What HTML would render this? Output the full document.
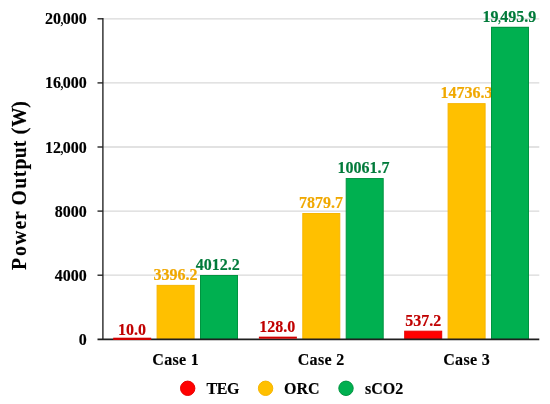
<!DOCTYPE html>
<html><head><meta charset="utf-8"><title>Power Output</title>
<style>
html,body{margin:0;padding:0;background:#fff;}
body{width:550px;height:404px;overflow:hidden;}
svg{display:block;}
text{font-family:"Liberation Serif","Times New Roman",serif;font-weight:bold;font-kerning:none;}
.t{font-size:16px;}
.k{fill:#000;stroke:#000;stroke-width:0.15;}
</style></head><body>
<svg width="550" height="404" viewBox="0 0 550 404">
<rect width="550" height="404" fill="#fff"/>
<line x1="102.9" y1="275.20" x2="539.3" y2="275.20" stroke="#d9d9d9" stroke-width="1.3"/>
<line x1="102.9" y1="211.10" x2="539.3" y2="211.10" stroke="#d9d9d9" stroke-width="1.3"/>
<line x1="102.9" y1="147.00" x2="539.3" y2="147.00" stroke="#d9d9d9" stroke-width="1.3"/>
<line x1="102.9" y1="82.90" x2="539.3" y2="82.90" stroke="#d9d9d9" stroke-width="1.3"/>
<line x1="102.9" y1="18.80" x2="539.3" y2="18.80" stroke="#d9d9d9" stroke-width="1.3"/>
<rect x="157.10" y="285.38" width="37.00" height="53.92" fill="#ffc000" stroke="#f7b500" stroke-width="1"/>
<rect x="200.50" y="275.50" width="37.00" height="63.80" fill="#00b050" stroke="#009440" stroke-width="1"/>
<rect x="302.80" y="213.53" width="37.00" height="125.77" fill="#ffc000" stroke="#f7b500" stroke-width="1"/>
<rect x="346.20" y="178.56" width="37.00" height="160.74" fill="#00b050" stroke="#009440" stroke-width="1"/>
<rect x="404.70" y="331.19" width="37.00" height="8.11" fill="#ff0000" stroke="#e80000" stroke-width="1"/>
<rect x="448.10" y="103.65" width="37.00" height="235.65" fill="#ffc000" stroke="#f7b500" stroke-width="1"/>
<rect x="491.50" y="27.38" width="37.00" height="311.92" fill="#00b050" stroke="#009440" stroke-width="1"/>
<text class="t" x="132.00" y="334.54" text-anchor="middle" fill="#c00000" stroke="#c00000" stroke-width="0.15">10.0</text>
<text class="t" x="175.60" y="280.08" text-anchor="middle" fill="#f0a800" stroke="#f0a800" stroke-width="0.15">3396.2</text>
<text class="t" x="217.70" y="270.40" text-anchor="middle" fill="#007a3a" stroke="#007a3a" stroke-width="0.15">4012.2</text>
<text class="t" x="277.30" y="332.45" text-anchor="middle" fill="#c00000" stroke="#c00000" stroke-width="0.15">128.0</text>
<text class="t" x="321.10" y="207.63" text-anchor="middle" fill="#f0a800" stroke="#f0a800" stroke-width="0.15">7879.7</text>
<text class="t" x="363.40" y="173.06" text-anchor="middle" fill="#007a3a" stroke="#007a3a" stroke-width="0.15">10061.7</text>
<text class="t" x="423.20" y="326.29" text-anchor="middle" fill="#c00000" stroke="#c00000" stroke-width="0.15">537.2</text>
<text class="t" x="466.60" y="98.15" text-anchor="middle" fill="#f0a800" stroke="#f0a800" stroke-width="0.15">14736.3</text>
<text class="t" x="509.40" y="21.88" text-anchor="middle" fill="#007a3a" stroke="#007a3a" stroke-width="0.15">19<tspan dx="-1.1" font-weight="normal" stroke="none">,</tspan><tspan dx="-1.1">495.9</tspan></text>
<rect x="491.50" y="27.38" width="37.00" height="311.92" fill="#00b050" stroke="#009440" stroke-width="1"/>
<line x1="102.9" y1="18.10" x2="102.9" y2="340.10" stroke="#1f1f1f" stroke-width="1.35"/>
<line x1="97.5" y1="339.30" x2="539.3" y2="339.30" stroke="#1f1f1f" stroke-width="1.7"/>
<line x1="97.5" y1="275.20" x2="102.9" y2="275.20" stroke="#1f1f1f" stroke-width="1.35"/>
<line x1="97.5" y1="211.10" x2="102.9" y2="211.10" stroke="#1f1f1f" stroke-width="1.35"/>
<line x1="97.5" y1="147.00" x2="102.9" y2="147.00" stroke="#1f1f1f" stroke-width="1.35"/>
<line x1="97.5" y1="82.90" x2="102.9" y2="82.90" stroke="#1f1f1f" stroke-width="1.35"/>
<line x1="97.5" y1="18.80" x2="102.9" y2="18.80" stroke="#1f1f1f" stroke-width="1.35"/>
<rect x="113.20" y="337.70" width="38.00" height="2.30" fill="#d00000"/>
<rect x="258.90" y="336.65" width="38.00" height="2.05" fill="#d00000"/>
<text class="t k" x="86.8" y="344.80" text-anchor="end">0</text>
<text class="t k" x="86.8" y="280.70" text-anchor="end">4000</text>
<text class="t k" x="86.8" y="216.60" text-anchor="end">8000</text>
<text class="t k" x="86.8" y="152.50" text-anchor="end">12<tspan dx="-1.1" font-weight="normal" stroke="none">,</tspan><tspan dx="-1.1">000</tspan></text>
<text class="t k" x="86.8" y="88.40" text-anchor="end">16<tspan dx="-1.1" font-weight="normal" stroke="none">,</tspan><tspan dx="-1.1">000</tspan></text>
<text class="t k" x="86.8" y="24.30" text-anchor="end">20<tspan dx="-1.1" font-weight="normal" stroke="none">,</tspan><tspan dx="-1.1">000</tspan></text>
<text class="t k" x="175.73" y="364.6" text-anchor="middle" letter-spacing="0.35">Case 1</text>
<text class="t k" x="321.20" y="364.6" text-anchor="middle" letter-spacing="0.35">Case 2</text>
<text class="t k" x="466.67" y="364.6" text-anchor="middle" letter-spacing="0.35">Case 3</text>
<text class="k" transform="translate(26.2,270) rotate(-90) scale(0.985,1)" font-size="20" x="-0.06 14.34 25.49 41.21 50.89 58.89 65.52 82.53 94.27 102.08 113.39 124.62 132.62 137.82 145.29 164.71">Power Output (W)</text>
<circle cx="187.7" cy="388.3" r="7.2" fill="#ff0000" stroke="#e80000" stroke-width="1"/>
<text class="t k" x="206.4" y="394" letter-spacing="-0.4">TEG</text>
<circle cx="265.6" cy="388.3" r="7.2" fill="#ffc000" stroke="#f7b500" stroke-width="1"/>
<text class="t k" x="284.0" y="394">ORC</text>
<circle cx="346.0" cy="388.3" r="7.2" fill="#00b050" stroke="#009440" stroke-width="1"/>
<text class="t k" x="365.0" y="394">sCO2</text>
</svg>
</body></html>
